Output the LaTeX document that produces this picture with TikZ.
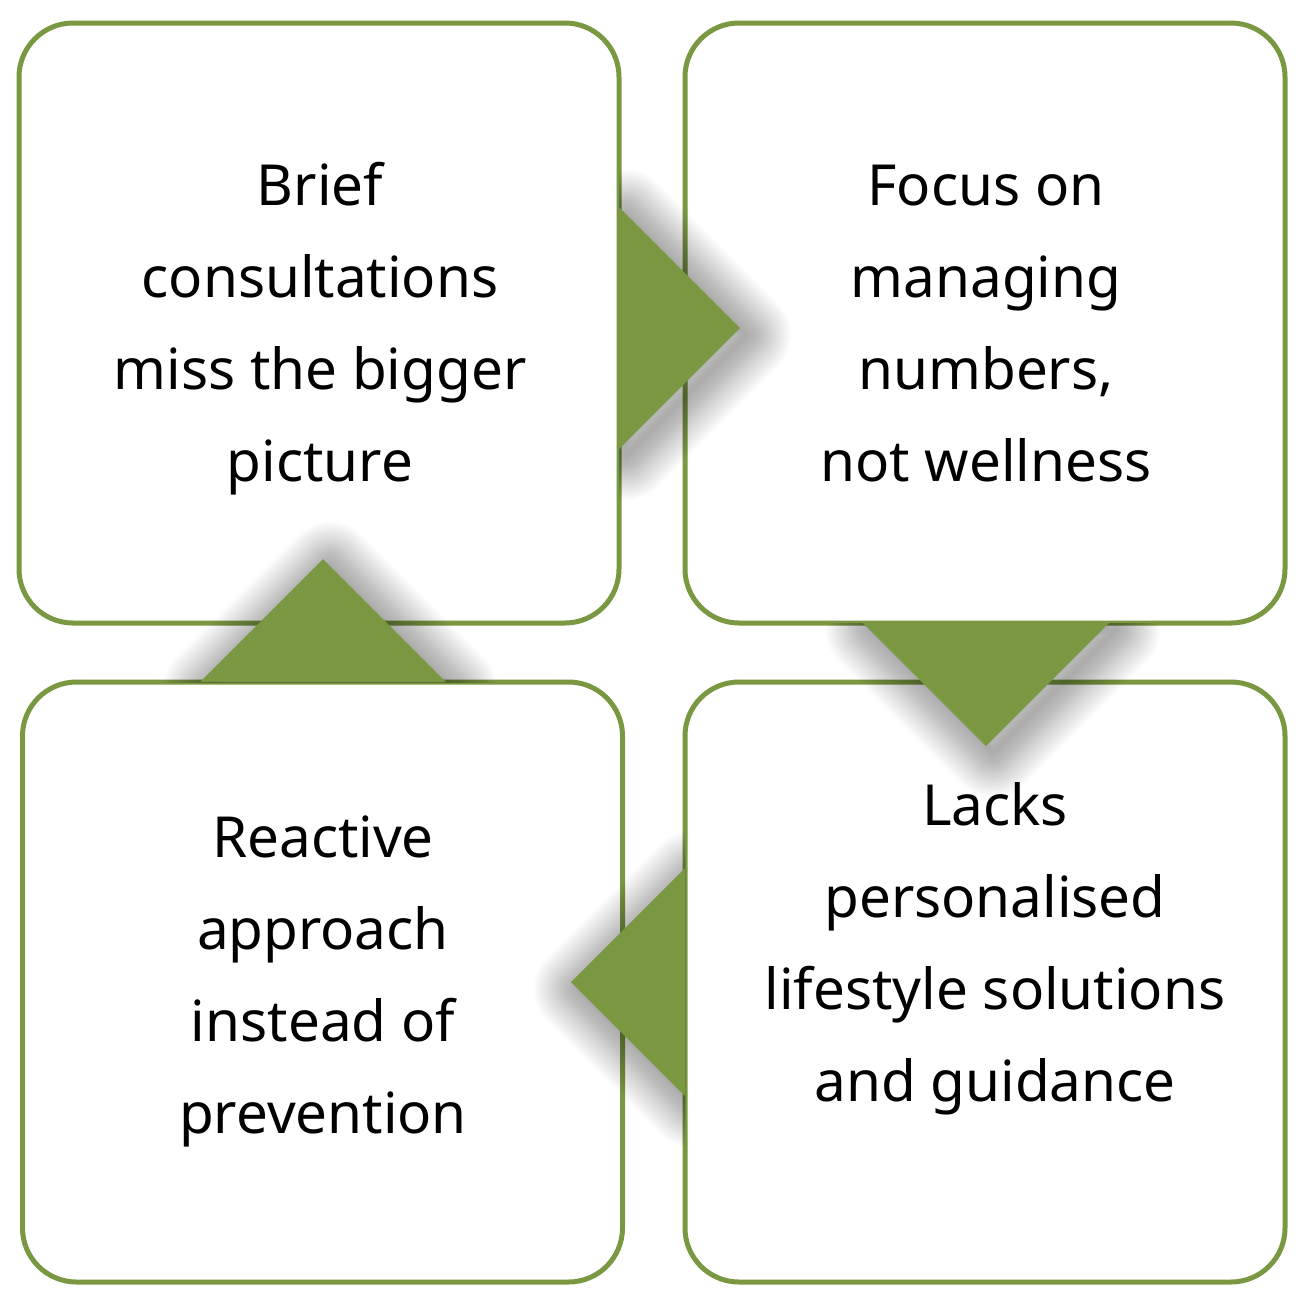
\documentclass[tikz,border=0pt]{standalone}
\usepackage{fontspec}
\setmainfont{Noto Sans}
\definecolor{leaf}{RGB}{121,152,65}
\begin{document}
\begin{tikzpicture}[x=0.5pt,y=-0.5pt,
  box/.style={draw=leaf, line width=2.5pt, fill=white, rounded corners=27pt,
    minimum width=300pt, minimum height=300pt, inner sep=0pt},
  txt/.style={font=\fontsize{28.3}{46}\selectfont, align=center, text=black, inner sep=0pt},
  arrowtri/.style={fill=leaf},
  softshade/.style={draw=black, line join=round, opacity=0.017}]
\useasboundingbox (0,0) rectangle (1302,1302);
\fill[white] (0,0) rectangle (1302,1302);
% boxes
\node[box] (b1) at (319,323) {};
\node[box] (b2) at (985,323) {};
\node[box] (b3) at (985,982) {};
\node[box] (b4) at (322.5,982) {};
% arrows (each visible beyond the edge of the box it leaves)
\begin{scope}
  \clip (619,0) rectangle (1302,800);
  \foreach \k in {1,...,22}
    \path[softshade, line width=2*\k pt, shift={(7,7)}] (619,207) -- (740,328) -- (619,449) -- cycle;
  \fill[arrowtri] (619,207) -- (740,328) -- (619,449) -- cycle;
\end{scope}
\begin{scope}
  \clip (500,623) rectangle (1302,1302);
  \foreach \k in {1,...,22}
    \path[softshade, line width=2*\k pt, shift={(7,7)}] (863,623) -- (986,746) -- (1109,623) -- cycle;
  \fill[arrowtri] (863,623) -- (986,746) -- (1109,623) -- cycle;
\end{scope}
\begin{scope}
  \clip (0,700) rectangle (685,1302);
  \foreach \k in {1,...,22}
    \path[softshade, line width=2*\k pt, shift={(7,7)}] (685,868) -- (571,982) -- (685,1096) -- cycle;
  \fill[arrowtri] (685,868) -- (571,982) -- (685,1096) -- cycle;
\end{scope}
\begin{scope}
  \clip (0,0) rectangle (800,682);
  \foreach \k in {1,...,22}
    \path[softshade, line width=2*\k pt, shift={(7,7)}] (200,682) -- (323,559) -- (446,682) -- cycle;
  \fill[arrowtri] (200,682) -- (323,559) -- (446,682) -- cycle;
\end{scope}
% texts
\node[txt] (t1) at (320,329) {Brief\\consultations\\miss the bigger\\picture};
\node[txt] (t2) at (986,324) {Focus on\\managing\\numbers,\\not wellness};
\node[txt] (t3) at (995,949) {Lacks\\personalised\\lifestyle solutions\\and guidance};
\node[txt] (t4) at (323,981) {Reactive\\approach\\instead of\\prevention};
\end{tikzpicture}
\end{document}
